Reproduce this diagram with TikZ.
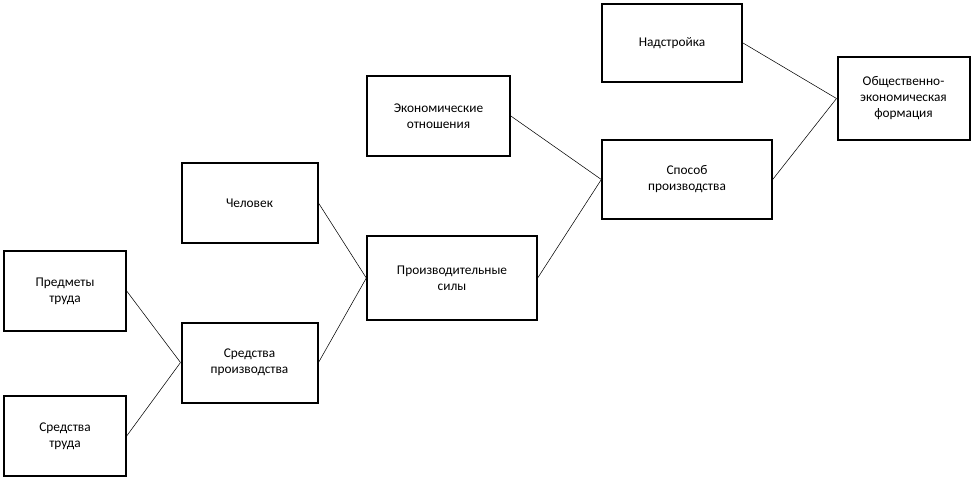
\documentclass[tikz,border=0pt]{standalone}
\usepackage{fontspec}
\setmainfont{Carlito}
\usetikzlibrary{positioning}
\tikzset{
    stage box/.style={draw,line width=1.5pt,align=center,inner sep=2pt,font=\fontsize{10}{12}\selectfont},
    link/.style={thin},
}
\begin{document}
\begin{tikzpicture}[x=0.75pt,y=-0.75pt]
        \useasboundingbox (0,0) rectangle (975,478);
        % first column
        \node[stage box,minimum width=91pt,minimum height=60pt] (subjects) at (65,291) {Предметы\\труда};
        \node[stage box,minimum width=91pt,minimum height=60pt] (tools) at (65,436) {Средства\\труда};
        % second column
        \node[stage box,minimum width=102pt,minimum height=60pt] (human) at (249.5,203) {Человек};
        \node[stage box,minimum width=102pt,minimum height=60pt] (means) at (249.5,362.5) {Средства\\производства};
        % third column
        \node[stage box,minimum width=107pt,minimum height=60pt] (relations) at (438.5,116) {Экономические\\отношения};
        \node[stage box,minimum width=127pt,minimum height=63pt] (forces) at (452,278) {Производительные\\силы};
        % fourth column
        \node[stage box,minimum width=105pt,minimum height=58pt] (superstr) at (672,43) {Надстройка};
        \node[stage box,minimum width=127pt,minimum height=59pt] (mode) at (687,179.5) {Способ\\производства};
        % last
        \node[stage box,minimum width=99pt,minimum height=62pt] (formation) at (903.5,98.5) {Общественно-\\экономическая\\формация};
        % connectors
        \draw[link] (subjects.east) -- (means.west);
        \draw[link] (tools.east) -- (means.west);
        \draw[link] (human.east) -- (forces.west);
        \draw[link] (means.east) -- (forces.west);
        \draw[link] (relations.east) -- (mode.west);
        \draw[link] (forces.east) -- (mode.west);
        \draw[link] (superstr.east) -- (formation.west);
        \draw[link] (mode.east) -- (formation.west);
\end{tikzpicture}
\end{document}
